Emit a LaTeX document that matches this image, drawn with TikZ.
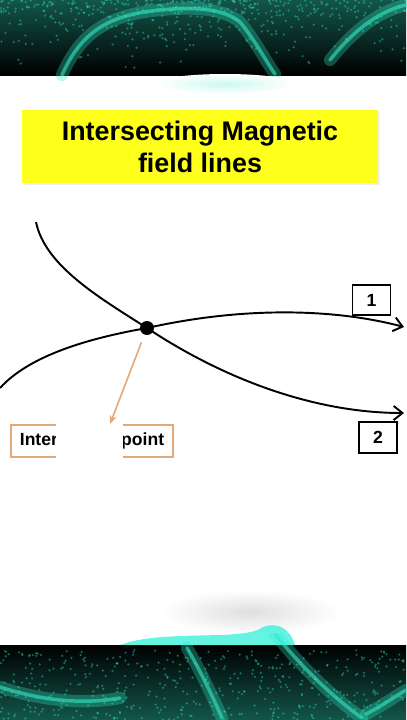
\documentclass[tikz,border=0pt]{standalone}
\usepackage{fontspec}
\setmainfont{Liberation Sans}
\usetikzlibrary{arrows.meta,positioning,calc}
\definecolor{titleyellow}{HTML}{FFFF1C}
\definecolor{tagorange}{HTML}{E2A878}
\definecolor{waveteal}{HTML}{33E8C4}
\definecolor{darkteal}{HTML}{13564A}
\begin{document}
\begin{tikzpicture}[x=0.02cm,y=-0.02cm,
    fieldline/.style={line width=1.1pt,-{Straight Barb[length=5pt,width=8pt]}},
    numbox/.style={draw,line width=0.8pt,fill=white,inner sep=0pt,
      font=\bfseries\fontsize{10}{12}\selectfont,minimum width=0.75cm,minimum height=0.6cm},
    tagbox/.style={draw=tagorange,line width=1pt,fill=white,inner sep=0pt,
      font=\bfseries\fontsize{10}{12}\selectfont,minimum width=3.24cm,minimum height=0.64cm},
    wave/.style={waveteal,line width=7pt,opacity=0.3,line cap=round,
      postaction={draw,line width=2pt,opacity=0.6}}]
  \useasboundingbox (0,0) rectangle (406,720);
  \fill[white] (0,0) rectangle (406,720);

  % bandas oscuras de arriba y de abajo
  \shade[top color=darkteal,bottom color=black] (0,0) rectangle (406,75);
  \shade[top color=black,bottom color=darkteal] (0,645) rectangle (406,720);
  \pgfmathsetmacro{\dummy}{0}
  \pgfmathsetseed{11}
  \foreach \i in {1,...,450}{
    \fill[waveteal,opacity=0.4] ({rnd*406},{rnd*rnd*70}) circle (0.7pt);
    \fill[waveteal,opacity=0.4] ({rnd*406},{650+rnd*70}) circle (0.7pt);
  }
  \draw[wave] (62,75) .. controls (80,35) and (105,15) .. (160,10) .. controls (200,6) and (225,10) .. (240,22)
    .. controls (255,40) and (265,60) .. (275,74);
  \draw[wave] (330,60) .. controls (350,35) and (375,12) .. (406,5);
  \draw[wave] (0,687) .. controls (40,700) and (80,705) .. (120,698);
  \draw[wave] (187,648) .. controls (200,670) and (212,695) .. (222,718);
  \draw[wave] (275,634) .. controls (300,665) and (330,695) .. (362,718);
  \draw[wave] (406,690) .. controls (390,700) and (378,708) .. (366,714);

  % brillos sobre el blanco
  \shade[inner color=gray!25,outer color=white] (250,612) ellipse [x radius=90,y radius=22];
  \fill[waveteal!70!cyan,opacity=0.7] (120,645) .. controls (160,630) and (230,640) .. (258,630)
    .. controls (268,622) and (288,622) .. (295,645) -- cycle;
  \shade[inner color=waveteal!25,outer color=white] (225,84) ellipse [x radius=70,y radius=10];

  % titulo
  \fill[gray!12] (24,112) rectangle (380,185);
  \fill[titleyellow] (22,110) rectangle (378,183);
  \node[font=\bfseries\fontsize{15.3}{18}\selectfont,align=center] (title) at (200,147)
    {Intersecting Magnetic\\field lines};

  % lineas de campo
  \coordinate (a0) at (36,222);
  \coordinate (b0) at (0,388);
  \coordinate (P0) at (147,328);
  \coordinate (a1) at (404,413);
  \coordinate (b1) at (404,327);
  \draw[fieldline] (a0) .. controls (45,266) and (100,298) .. (P0)
    .. controls (230,383) and (320,413) .. (a1);
  \draw[fieldline] (b0) .. controls (30,355) and (90,338) .. (P0)
    .. controls (250,305) and (340,310) .. (b1);
  \node[circle,fill,inner sep=0pt,minimum size=0.28cm] (P) at (P0) {};

  \node[numbox] (n1) at (371.5,300) {1};
  \node[numbox,minimum width=0.76cm,minimum height=0.62cm] (n2) at (378,437.5) {2};

  % etiqueta del punto
  \node[tagbox] (tag) at (92,441) {Inter\hspace{3.6em}point};
  \fill[white] (56,420) rectangle (123,462);
  \coordinate (tip) at (110,424);
  \draw[tagorange,line width=0.9pt,-{Stealth[length=5pt,width=4pt]},shorten <=0.16cm] (P) -- (tip);
\end{tikzpicture}
\end{document}
